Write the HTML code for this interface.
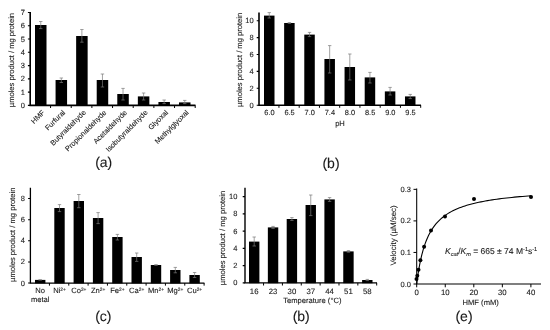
<!DOCTYPE html>
<html lang="en"><head><meta charset="utf-8"><title>Figure</title>
<style>
html,body{margin:0;padding:0;background:#fff}
svg{display:block;filter:blur(0.35px)}
text{font-family:"Liberation Sans",Arial,Helvetica,sans-serif;fill:#1a1a1a;stroke:#1a1a1a;stroke-width:0.1px;text-rendering:geometricPrecision}
</style></head><body>
<svg width="550" height="330" viewBox="0 0 550 330">
<rect width="550" height="330" fill="#fff"/>
<path d="M30.2 11.9V105.4H195.5" fill="none" stroke="#000" stroke-width="1.6"/>
<path d="M27.9 105.40H30.2M27.9 92.13H30.2M27.9 78.86H30.2M27.9 65.59H30.2M27.9 52.32H30.2M27.9 39.05H30.2M27.9 25.78H30.2M27.9 12.51H30.2" stroke="#000" stroke-width="1.1"/>
<text x="24.799999999999997" y="107.85" font-size="7.5" text-anchor="end">0</text>
<text x="24.799999999999997" y="94.58" font-size="7.5" text-anchor="end">1</text>
<text x="24.799999999999997" y="81.31" font-size="7.5" text-anchor="end">2</text>
<text x="24.799999999999997" y="68.04" font-size="7.5" text-anchor="end">3</text>
<text x="24.799999999999997" y="54.77" font-size="7.5" text-anchor="end">4</text>
<text x="24.799999999999997" y="41.50" font-size="7.5" text-anchor="end">5</text>
<text x="24.799999999999997" y="28.23" font-size="7.5" text-anchor="end">6</text>
<text x="24.799999999999997" y="14.96" font-size="7.5" text-anchor="end">7</text>
<path d="M50.56 105.4v2.6M71.23 105.4v2.6M91.89 105.4v2.6M112.55 105.4v2.6M133.21 105.4v2.6M153.88 105.4v2.6M174.54 105.4v2.6M195.20 105.4v2.6" stroke="#000" stroke-width="1"/>
<rect x="35.00" y="25" width="11.5" height="80.70" fill="#000"/>
<rect x="55.57" y="80" width="11.5" height="25.70" fill="#000"/>
<rect x="76.14" y="36" width="11.5" height="69.70" fill="#000"/>
<rect x="96.71" y="80" width="11.5" height="25.70" fill="#000"/>
<rect x="117.28" y="94" width="11.5" height="11.70" fill="#000"/>
<rect x="137.85" y="96.4" width="11.5" height="9.30" fill="#000"/>
<rect x="158.42" y="102" width="11.5" height="3.70" fill="#000"/>
<rect x="178.99" y="102.4" width="11.5" height="3.30" fill="#000"/>
<path d="M39.05 21.5h3.4M39.05 28.6h3.4M40.75 21.5V28.6M59.62 78h3.4M59.62 82.5h3.4M61.32 78V82.5M80.19 29.5h3.4M80.19 42.2h3.4M81.89 29.5V42.2M100.76 74h3.4M100.76 87h3.4M102.46 74V87M121.33 88.4h3.4M121.33 100h3.4M123.03 88.4V100M141.90 93h3.4M141.90 100h3.4M143.60 93V100M162.47 100h3.4M162.47 103.6h3.4M164.17 100V103.6M183.04 100.4h3.4M183.04 103.6h3.4M184.74 100.4V103.6" stroke="#7a7a7a" stroke-width="0.7" fill="none"/>
<text transform="translate(45.15 113.00) rotate(-45)" font-size="7.3" text-anchor="end">HMF</text>
<text transform="translate(65.72 113.00) rotate(-45)" font-size="7.3" text-anchor="end">Furfural</text>
<text transform="translate(86.29 113.00) rotate(-45)" font-size="7.3" text-anchor="end">Butyraldehyde</text>
<text transform="translate(106.86 113.00) rotate(-45)" font-size="7.3" text-anchor="end">Propionaldehyde</text>
<text transform="translate(127.43 113.00) rotate(-45)" font-size="7.3" text-anchor="end">Acetaldehyde</text>
<text transform="translate(148.00 113.00) rotate(-45)" font-size="7.3" text-anchor="end">Isobutyraldehyde</text>
<text transform="translate(168.57 113.00) rotate(-45)" font-size="7.3" text-anchor="end">Glyoxal</text>
<text transform="translate(189.14 113.00) rotate(-45)" font-size="7.3" text-anchor="end">Methylglyoxal</text>
<text transform="translate(14.1 60.1) rotate(-90)" font-size="7.6" text-anchor="middle">µmoles product / mg protein</text>
<text x="103.7" y="166.7" font-size="14" text-anchor="middle">(a)</text>
<path d="M259 12.4V105.2H421" fill="none" stroke="#000" stroke-width="1.6"/>
<path d="M256.7 105.20H259M256.7 88.30H259M256.7 71.40H259M256.7 54.50H259M256.7 37.60H259M256.7 20.70H259" stroke="#000" stroke-width="1.1"/>
<text x="253.6" y="107.65" font-size="7.5" text-anchor="end">0</text>
<text x="253.6" y="90.75" font-size="7.5" text-anchor="end">2</text>
<text x="253.6" y="73.85" font-size="7.5" text-anchor="end">4</text>
<text x="253.6" y="56.95" font-size="7.5" text-anchor="end">6</text>
<text x="253.6" y="40.05" font-size="7.5" text-anchor="end">8</text>
<text x="253.6" y="23.15" font-size="7.5" text-anchor="end">10</text>
<path d="M278.95 105.2v2.6M299.20 105.2v2.6M319.45 105.2v2.6M339.70 105.2v2.6M359.95 105.2v2.6M380.20 105.2v2.6M400.45 105.2v2.6M420.70 105.2v2.6" stroke="#000" stroke-width="1"/>
<rect x="264.00" y="15.6" width="10.5" height="89.90" fill="#000"/>
<rect x="284.14" y="23" width="10.5" height="82.50" fill="#000"/>
<rect x="304.28" y="34.6" width="10.5" height="70.90" fill="#000"/>
<rect x="324.42" y="59" width="10.5" height="46.50" fill="#000"/>
<rect x="344.56" y="67" width="10.5" height="38.50" fill="#000"/>
<rect x="364.70" y="77.4" width="10.5" height="28.10" fill="#000"/>
<rect x="384.84" y="91.4" width="10.5" height="14.10" fill="#000"/>
<rect x="404.98" y="96.4" width="10.5" height="9.10" fill="#000"/>
<path d="M267.55 12.6h3.4M267.55 18h3.4M269.25 12.6V18M287.69 22.6h3.4M287.69 23.4h3.4M289.39 22.6V23.4M307.83 32.4h3.4M307.83 36.6h3.4M309.53 32.4V36.6M327.97 45.6h3.4M327.97 73h3.4M329.67 45.6V73M348.11 54h3.4M348.11 80h3.4M349.81 54V80M368.25 72.4h3.4M368.25 83h3.4M369.95 72.4V83M388.39 87.4h3.4M388.39 95h3.4M390.09 87.4V95M408.53 94.4h3.4M408.53 98.6h3.4M410.23 94.4V98.6" stroke="#7a7a7a" stroke-width="0.7" fill="none"/>
<text x="269.45" y="115.4" font-size="7.4" text-anchor="middle">6.0</text>
<text x="289.59" y="115.4" font-size="7.4" text-anchor="middle">6.5</text>
<text x="309.73" y="115.4" font-size="7.4" text-anchor="middle">7.0</text>
<text x="329.87" y="115.4" font-size="7.4" text-anchor="middle">7.4</text>
<text x="350.01" y="115.4" font-size="7.4" text-anchor="middle">8.0</text>
<text x="370.15" y="115.4" font-size="7.4" text-anchor="middle">8.5</text>
<text x="390.29" y="115.4" font-size="7.4" text-anchor="middle">9.0</text>
<text x="410.43" y="115.4" font-size="7.4" text-anchor="middle">9.5</text>
<text x="340" y="125.9" font-size="7.6" text-anchor="middle">pH</text>
<text transform="translate(242.2 59.9) rotate(-90)" font-size="7.6" text-anchor="middle">µmoles product / mg protein</text>
<text x="331" y="167.7" font-size="14" text-anchor="middle">(b)</text>
<path d="M30.4 187.8V283.05H204.4" fill="none" stroke="#000" stroke-width="1.3"/>
<path d="M28.099999999999998 283.05H30.4M28.099999999999998 261.93H30.4M28.099999999999998 240.81H30.4M28.099999999999998 219.69H30.4M28.099999999999998 198.57H30.4" stroke="#000" stroke-width="1.1"/>
<text x="25.0" y="285.50" font-size="7.5" text-anchor="end">0</text>
<text x="25.0" y="264.38" font-size="7.5" text-anchor="end">2</text>
<text x="25.0" y="243.26" font-size="7.5" text-anchor="end">4</text>
<text x="25.0" y="222.14" font-size="7.5" text-anchor="end">6</text>
<text x="25.0" y="201.02" font-size="7.5" text-anchor="end">8</text>
<path d="M49.43 283.05v2.6M68.77 283.05v2.6M88.10 283.05v2.6M107.43 283.05v2.6M126.77 283.05v2.6M146.10 283.05v2.6M165.43 283.05v2.6M184.77 283.05v2.6M204.10 283.05v2.6" stroke="#000" stroke-width="1"/>
<rect x="35.00" y="279.9" width="10.4" height="3.45" fill="#000"/>
<rect x="54.30" y="208" width="10.4" height="75.35" fill="#000"/>
<rect x="73.60" y="201" width="10.4" height="82.35" fill="#000"/>
<rect x="92.90" y="218" width="10.4" height="65.35" fill="#000"/>
<rect x="112.20" y="237" width="10.4" height="46.35" fill="#000"/>
<rect x="131.50" y="257" width="10.4" height="26.35" fill="#000"/>
<rect x="150.80" y="265" width="10.4" height="18.35" fill="#000"/>
<rect x="170.10" y="270" width="10.4" height="13.35" fill="#000"/>
<rect x="189.40" y="275" width="10.4" height="8.35" fill="#000"/>
<path d="M38.50 279.9h3.4M38.50 279.9h3.4M40.20 279.9V279.9M57.80 204.6h3.4M57.80 211.6h3.4M59.50 204.6V211.6M77.10 194.5h3.4M77.10 207.7h3.4M78.80 194.5V207.7M96.40 212.6h3.4M96.40 223.6h3.4M98.10 212.6V223.6M115.70 234.4h3.4M115.70 240h3.4M117.40 234.4V240M135.00 253h3.4M135.00 261.4h3.4M136.70 253V261.4M154.30 264.7h3.4M154.30 265.3h3.4M156.00 264.7V265.3M173.60 267.4h3.4M173.60 272.8h3.4M175.30 267.4V272.8M192.90 272.5h3.4M192.90 277.5h3.4M194.60 272.5V277.5" stroke="#7a7a7a" stroke-width="0.7" fill="none"/>
<text x="40.20" y="293.3" font-size="7.6" text-anchor="middle">No</text>
<text x="40.20" y="302" font-size="7.6" text-anchor="middle">metal</text>
<text x="59.50" y="293.3" font-size="7.6" text-anchor="middle">Ni<tspan font-size="4.8" dy="-2.5">2+</tspan></text>
<text x="78.80" y="293.3" font-size="7.6" text-anchor="middle">Co<tspan font-size="4.8" dy="-2.5">2+</tspan></text>
<text x="98.10" y="293.3" font-size="7.6" text-anchor="middle">Zn<tspan font-size="4.8" dy="-2.5">2+</tspan></text>
<text x="117.40" y="293.3" font-size="7.6" text-anchor="middle">Fe<tspan font-size="4.8" dy="-2.5">2+</tspan></text>
<text x="136.70" y="293.3" font-size="7.6" text-anchor="middle">Ca<tspan font-size="4.8" dy="-2.5">2+</tspan></text>
<text x="156.00" y="293.3" font-size="7.6" text-anchor="middle">Mn<tspan font-size="4.8" dy="-2.5">2+</tspan></text>
<text x="175.30" y="293.3" font-size="7.6" text-anchor="middle">Mg<tspan font-size="4.8" dy="-2.5">2+</tspan></text>
<text x="194.60" y="293.3" font-size="7.6" text-anchor="middle">Cu<tspan font-size="4.8" dy="-2.5">2+</tspan></text>
<text transform="translate(14.6 234.75) rotate(-90)" font-size="7.6" text-anchor="middle">µmoles product / mg protein</text>
<text x="103.3" y="320.9" font-size="14" text-anchor="middle">(c)</text>
<path d="M245 187.8V282.9H377" fill="none" stroke="#000" stroke-width="1.4"/>
<path d="M242.7 282.90H245M242.7 265.64H245M242.7 248.38H245M242.7 231.12H245M242.7 213.86H245M242.7 196.60H245" stroke="#000" stroke-width="1.1"/>
<text x="237.4" y="285.35" font-size="7.5" text-anchor="end">0</text>
<text x="237.4" y="268.09" font-size="7.5" text-anchor="end">2</text>
<text x="237.4" y="250.83" font-size="7.5" text-anchor="end">4</text>
<text x="237.4" y="233.57" font-size="7.5" text-anchor="end">6</text>
<text x="237.4" y="216.31" font-size="7.5" text-anchor="end">8</text>
<text x="237.4" y="199.05" font-size="7.5" text-anchor="end">10</text>
<path d="M263.56 282.9v2.6M282.41 282.9v2.6M301.27 282.9v2.6M320.13 282.9v2.6M338.99 282.9v2.6M357.84 282.9v2.6M376.70 282.9v2.6" stroke="#000" stroke-width="1"/>
<rect x="249.00" y="241.6" width="10.4" height="41.60" fill="#000"/>
<rect x="267.85" y="227.4" width="10.4" height="55.80" fill="#000"/>
<rect x="286.70" y="219" width="10.4" height="64.20" fill="#000"/>
<rect x="305.55" y="205" width="10.4" height="78.20" fill="#000"/>
<rect x="324.40" y="199.4" width="10.4" height="83.80" fill="#000"/>
<rect x="343.25" y="251.4" width="10.4" height="31.80" fill="#000"/>
<rect x="362.10" y="280" width="10.4" height="3.20" fill="#000"/>
<path d="M252.50 237h3.4M252.50 246h3.4M254.20 237V246M271.35 226.4h3.4M271.35 228.4h3.4M273.05 226.4V228.4M290.20 217.6h3.4M290.20 220.4h3.4M291.90 217.6V220.4M309.05 195h3.4M309.05 215.6h3.4M310.75 195V215.6M327.90 197.6h3.4M327.90 201.4h3.4M329.60 197.6V201.4M346.75 250.6h3.4M346.75 252.2h3.4M348.45 250.6V252.2M365.60 279.4h3.4M365.60 280.6h3.4M367.30 279.4V280.6" stroke="#7a7a7a" stroke-width="0.7" fill="none"/>
<text x="254.20" y="293.9" font-size="7.8" text-anchor="middle">16</text>
<text x="273.05" y="293.9" font-size="7.8" text-anchor="middle">23</text>
<text x="291.90" y="293.9" font-size="7.8" text-anchor="middle">30</text>
<text x="310.75" y="293.9" font-size="7.8" text-anchor="middle">37</text>
<text x="329.60" y="293.9" font-size="7.8" text-anchor="middle">44</text>
<text x="348.45" y="293.9" font-size="7.8" text-anchor="middle">51</text>
<text x="367.30" y="293.9" font-size="7.8" text-anchor="middle">58</text>
<text x="312.3" y="302.8" font-size="7.6" text-anchor="middle">Temperature (°C)</text>
<text transform="translate(225 238) rotate(-90)" font-size="7.6" text-anchor="middle">µmoles product / mg protein</text>
<text x="301.2" y="320.9" font-size="14" text-anchor="middle">(b)</text>
<path d="M416.7 188.6V284.0H541" fill="none" stroke="#000" stroke-width="1.05"/>
<text x="411.00" y="286.50" font-size="7.5" text-anchor="end">0.0</text>
<text x="411.00" y="254.95" font-size="7.5" text-anchor="end">0.1</text>
<text x="411.00" y="223.40" font-size="7.5" text-anchor="end">0.2</text>
<text x="411.00" y="191.85" font-size="7.5" text-anchor="end">0.3</text>
<text x="416.70" y="295.2" font-size="7.8" text-anchor="middle">0</text>
<text x="445.25" y="295.2" font-size="7.8" text-anchor="middle">10</text>
<text x="473.80" y="295.2" font-size="7.8" text-anchor="middle">20</text>
<text x="502.35" y="295.2" font-size="7.8" text-anchor="middle">30</text>
<text x="530.90" y="295.2" font-size="7.8" text-anchor="middle">40</text>
<path d="M413.5 284.00H416.7M413.5 252.45H416.7M413.5 220.90H416.7M413.5 189.35H416.7M416.70 284.0v3.3M445.25 284.0v3.3M473.80 284.0v3.3M502.35 284.0v3.3M530.90 284.0v3.3" stroke="#000" stroke-width="1"/>
<path d="M416.70 284.00 L416.72 283.86 L416.77 283.42 L416.86 282.71 L416.99 281.73 L417.15 280.50 L417.34 279.04 L417.57 277.37 L417.84 275.52 L418.15 273.51 L418.48 271.37 L418.86 269.12 L419.27 266.80 L419.72 264.41 L420.20 261.99 L420.71 259.55 L421.27 257.11 L421.86 254.68 L422.48 252.29 L423.14 249.93 L423.84 247.62 L424.57 245.37 L425.34 243.18 L426.14 241.06 L426.98 239.00 L427.85 237.02 L428.76 235.11 L429.71 233.27 L430.69 231.51 L431.71 229.81 L432.76 228.19 L433.85 226.63 L434.97 225.14 L436.13 223.71 L437.33 222.35 L438.56 221.05 L439.83 219.80 L441.13 218.61 L442.47 217.47 L443.84 216.38 L445.25 215.35 L446.70 214.35 L448.18 213.40 L449.69 212.50 L451.25 211.63 L452.83 210.80 L454.46 210.01 L456.12 209.25 L457.81 208.52 L459.54 207.83 L461.31 207.16 L463.11 206.53 L464.95 205.92 L466.82 205.33 L468.73 204.77 L470.68 204.23 L472.66 203.71 L474.67 203.22 L476.73 202.74 L478.81 202.29 L480.94 201.85 L483.10 201.42 L485.29 201.02 L487.52 200.63 L489.79 200.25 L492.09 199.89 L494.43 199.54 L496.80 199.20 L499.21 198.88 L501.65 198.57 L504.13 198.27 L506.65 197.98 L509.20 197.70 L511.79 197.43 L514.41 197.17 L517.07 196.91 L519.77 196.67 L522.50 196.44 L525.26 196.21 L528.06 195.99 L530.90 195.77" fill="none" stroke="#000" stroke-width="1.1" stroke-linejoin="round"/>
<circle cx="416.5" cy="279.1" r="2" fill="#000"/>
<circle cx="417.3" cy="275.7" r="2" fill="#000"/>
<circle cx="418.5" cy="269.8" r="2" fill="#000"/>
<circle cx="420.4" cy="260.3" r="2" fill="#000"/>
<circle cx="424.1" cy="246.8" r="2" fill="#000"/>
<circle cx="431" cy="230.4" r="2" fill="#000"/>
<circle cx="445" cy="216.4" r="2" fill="#000"/>
<circle cx="474" cy="199" r="2" fill="#000"/>
<circle cx="531" cy="197" r="2" fill="#000"/>
<text transform="translate(396 235.5) rotate(-90)" font-size="7.9" text-anchor="middle">Velocity (µM/sec)</text>
<text x="480.7" y="304.7" font-size="7.6" text-anchor="middle">HMF (mM)</text>
<text x="464" y="320.9" font-size="14" text-anchor="middle">(e)</text>
<text x="445" y="254.4" font-size="8.5"><tspan font-style="italic">K</tspan><tspan font-size="5.6" dy="1.8" font-style="italic">cat</tspan><tspan dy="-1.8">/</tspan><tspan font-style="italic">K</tspan><tspan font-size="5.6" dy="1.8" font-style="italic">m</tspan><tspan dy="-1.8"> = 665 ± 74 M</tspan><tspan font-size="5.6" dy="-3">-1</tspan><tspan dy="3">s</tspan><tspan font-size="5.6" dy="-3">-1</tspan></text>
</svg>
</body></html>
